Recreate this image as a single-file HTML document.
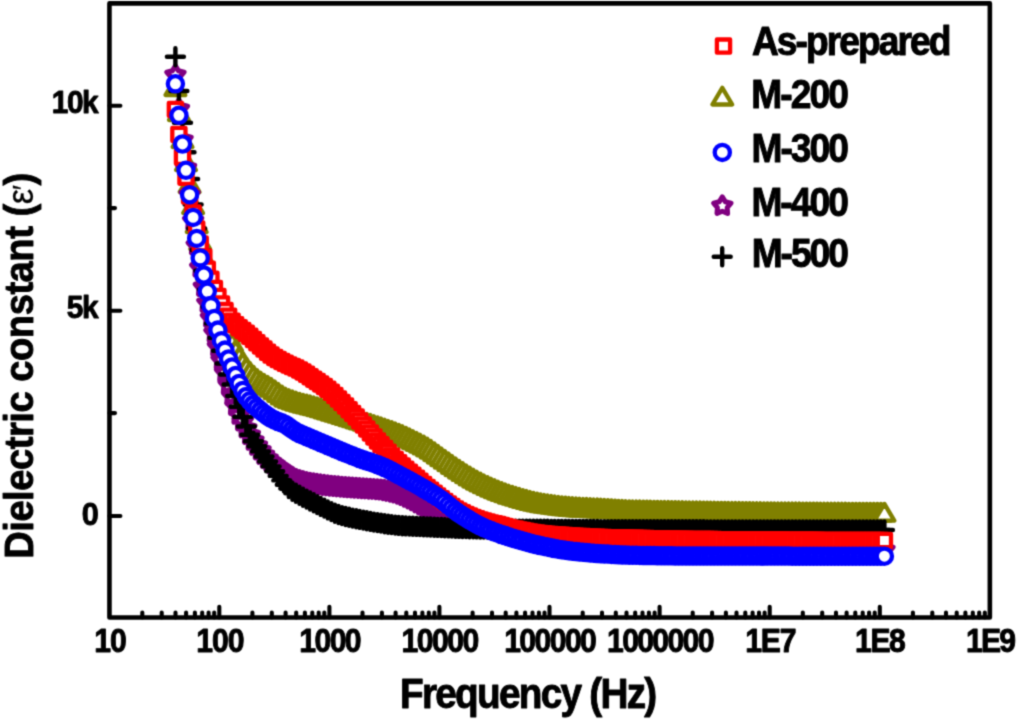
<!DOCTYPE html>
<html><head><meta charset="utf-8"><title>Dielectric constant vs Frequency</title>
<style>
html,body{margin:0;padding:0;background:#fff;}
svg{display:block;}
text{font-family:"Liberation Sans","DejaVu Sans",Arial,sans-serif;font-weight:bold;fill:#000;stroke:#000;stroke-width:0.9;stroke-linejoin:round;}
</style></head><body>
<svg xmlns="http://www.w3.org/2000/svg" width="1017" height="719" viewBox="0 0 1017 719">
<defs>
<path id="mS" d="M-6.6 -6.6H6.6V6.6H-6.6Z" fill="#fff" stroke="#FF0000" stroke-width="4.3" stroke-linejoin="round"/>
<path id="mT" d="M0 -9.6L9.9 7.1H-9.9Z" fill="#fff" stroke="#808000" stroke-width="4.3" stroke-linejoin="round"/>
<circle id="mC" r="7.6" fill="#fff" stroke="#0000FF" stroke-width="4.3"/>
<path id="mR" d="M0 -9.1 L3.1 -4.2 L8.7 -2.8 L4.9 1.6 L5.3 7.4 L0 5.2 L-5.3 7.4 L-4.9 1.6 L-8.7 -2.8 L-3.1 -4.2Z" fill="#fff" stroke="#800080" stroke-width="5.0" stroke-linejoin="round"/>
<path id="mP" d="M-8.5 0H8.5M0 -8.5V8.5" fill="none" stroke="#000" stroke-width="4.4" stroke-linecap="round"/>
<filter id="soft" x="0" y="0" width="1017" height="719" filterUnits="userSpaceOnUse" color-interpolation-filters="sRGB"><feConvolveMatrix order="3" kernelMatrix="9 30 9 30 100 30 9 30 9" divisor="256" edgeMode="duplicate" preserveAlpha="true"/></filter></defs>
<g filter="url(#soft)">
<rect width="1017" height="719" fill="#fff"/>
<g><use href="#mT" x="175.4" y="88"/><use href="#mT" x="178.9" y="113"/><use href="#mT" x="182.5" y="140"/><use href="#mT" x="186" y="163"/><use href="#mT" x="189.6" y="185"/><use href="#mT" x="193.1" y="206"/><use href="#mT" x="196.7" y="225"/><use href="#mT" x="200.2" y="242"/><use href="#mT" x="203.8" y="258"/><use href="#mT" x="207.3" y="273"/><use href="#mT" x="210.9" y="285.8"/><use href="#mT" x="214.4" y="296.6"/><use href="#mT" x="217.9" y="306.3"/><use href="#mT" x="221.5" y="316.2"/><use href="#mT" x="225" y="326.3"/><use href="#mT" x="228.6" y="335.7"/><use href="#mT" x="232.1" y="343.6"/><use href="#mT" x="235.7" y="351"/><use href="#mT" x="239.2" y="357.6"/><use href="#mT" x="242.8" y="363.3"/><use href="#mT" x="246.3" y="368.3"/><use href="#mT" x="249.8" y="372.7"/><use href="#mT" x="253.4" y="376.5"/><use href="#mT" x="256.9" y="379.8"/><use href="#mT" x="260.5" y="382.4"/><use href="#mT" x="264" y="384.6"/><use href="#mT" x="267.6" y="386.6"/><use href="#mT" x="271.1" y="388.6"/><use href="#mT" x="274.7" y="391.1"/><use href="#mT" x="278.2" y="393.7"/><use href="#mT" x="281.8" y="396.3"/><use href="#mT" x="285.3" y="398.4"/><use href="#mT" x="288.8" y="399.9"/><use href="#mT" x="292.4" y="401.2"/><use href="#mT" x="295.9" y="402.4"/><use href="#mT" x="299.5" y="403.5"/><use href="#mT" x="303" y="404.5"/><use href="#mT" x="306.6" y="405.3"/><use href="#mT" x="310.1" y="406.2"/><use href="#mT" x="313.7" y="407.1"/><use href="#mT" x="317.2" y="408.1"/><use href="#mT" x="320.7" y="409.1"/><use href="#mT" x="324.3" y="410.2"/><use href="#mT" x="327.8" y="411.3"/><use href="#mT" x="331.4" y="412.4"/><use href="#mT" x="334.9" y="413.5"/><use href="#mT" x="338.5" y="414.6"/><use href="#mT" x="342" y="415.7"/><use href="#mT" x="345.6" y="416.8"/><use href="#mT" x="349.1" y="417.9"/><use href="#mT" x="352.6" y="419"/><use href="#mT" x="356.2" y="420.2"/><use href="#mT" x="359.7" y="421.3"/><use href="#mT" x="363.3" y="422.4"/><use href="#mT" x="366.8" y="423.6"/><use href="#mT" x="370.4" y="424.7"/><use href="#mT" x="373.9" y="425.9"/><use href="#mT" x="377.5" y="427"/><use href="#mT" x="381" y="428.2"/><use href="#mT" x="384.6" y="429.4"/><use href="#mT" x="388.1" y="430.6"/><use href="#mT" x="391.6" y="431.8"/><use href="#mT" x="395.2" y="433.1"/><use href="#mT" x="398.7" y="434.5"/><use href="#mT" x="402.3" y="435.9"/><use href="#mT" x="405.8" y="437.5"/><use href="#mT" x="409.4" y="439.2"/><use href="#mT" x="412.9" y="440.9"/><use href="#mT" x="416.5" y="442.7"/><use href="#mT" x="420" y="444.4"/><use href="#mT" x="423.6" y="446.3"/><use href="#mT" x="427.1" y="448.3"/><use href="#mT" x="430.6" y="450.5"/><use href="#mT" x="434.2" y="453"/><use href="#mT" x="437.7" y="455.5"/><use href="#mT" x="441.3" y="458.1"/><use href="#mT" x="444.8" y="460.6"/><use href="#mT" x="448.4" y="463.1"/><use href="#mT" x="451.9" y="465.7"/><use href="#mT" x="455.5" y="468.1"/><use href="#mT" x="459" y="470.5"/><use href="#mT" x="462.5" y="472.8"/><use href="#mT" x="466.1" y="475.1"/><use href="#mT" x="469.6" y="477.3"/><use href="#mT" x="473.2" y="479.4"/><use href="#mT" x="476.7" y="481.4"/><use href="#mT" x="480.3" y="483.3"/><use href="#mT" x="483.8" y="485.1"/><use href="#mT" x="487.4" y="486.8"/><use href="#mT" x="490.9" y="488.4"/><use href="#mT" x="494.5" y="489.9"/><use href="#mT" x="498" y="491.4"/><use href="#mT" x="501.5" y="492.8"/><use href="#mT" x="505.1" y="494.1"/><use href="#mT" x="508.6" y="495.4"/><use href="#mT" x="512.2" y="496.5"/><use href="#mT" x="515.7" y="497.6"/><use href="#mT" x="519.3" y="498.7"/><use href="#mT" x="522.8" y="499.8"/><use href="#mT" x="526.4" y="500.7"/><use href="#mT" x="529.9" y="501.7"/><use href="#mT" x="533.4" y="502.5"/><use href="#mT" x="537" y="503.3"/><use href="#mT" x="540.5" y="504"/><use href="#mT" x="544.1" y="504.6"/><use href="#mT" x="547.6" y="505.1"/><use href="#mT" x="551.2" y="505.6"/><use href="#mT" x="554.7" y="506.1"/><use href="#mT" x="558.3" y="506.6"/><use href="#mT" x="561.8" y="507"/><use href="#mT" x="565.4" y="507.3"/><use href="#mT" x="568.9" y="507.7"/><use href="#mT" x="572.4" y="507.9"/><use href="#mT" x="576" y="508.2"/><use href="#mT" x="579.5" y="508.4"/><use href="#mT" x="583.1" y="508.6"/><use href="#mT" x="586.6" y="508.7"/><use href="#mT" x="590.2" y="508.9"/><use href="#mT" x="593.7" y="509.1"/><use href="#mT" x="597.3" y="509.2"/><use href="#mT" x="600.8" y="509.4"/><use href="#mT" x="604.3" y="509.6"/><use href="#mT" x="607.9" y="509.8"/><use href="#mT" x="611.4" y="510"/><use href="#mT" x="615" y="510.3"/><use href="#mT" x="618.5" y="510.5"/><use href="#mT" x="622.1" y="510.7"/><use href="#mT" x="625.6" y="510.9"/><use href="#mT" x="629.2" y="511"/><use href="#mT" x="632.7" y="511.1"/><use href="#mT" x="636.2" y="511.1"/><use href="#mT" x="639.8" y="511.2"/><use href="#mT" x="643.3" y="511.3"/><use href="#mT" x="646.9" y="511.3"/><use href="#mT" x="650.4" y="511.4"/><use href="#mT" x="654" y="511.5"/><use href="#mT" x="657.5" y="511.5"/><use href="#mT" x="661.1" y="511.6"/><use href="#mT" x="664.6" y="511.7"/><use href="#mT" x="668.2" y="511.7"/><use href="#mT" x="671.7" y="511.8"/><use href="#mT" x="675.2" y="511.8"/><use href="#mT" x="678.8" y="511.9"/><use href="#mT" x="682.3" y="511.9"/><use href="#mT" x="685.9" y="512"/><use href="#mT" x="689.4" y="512.1"/><use href="#mT" x="693" y="512.1"/><use href="#mT" x="696.5" y="512.2"/><use href="#mT" x="700.1" y="512.2"/><use href="#mT" x="703.6" y="512.3"/><use href="#mT" x="707.1" y="512.3"/><use href="#mT" x="710.7" y="512.4"/><use href="#mT" x="714.2" y="512.4"/><use href="#mT" x="717.8" y="512.5"/><use href="#mT" x="721.3" y="512.5"/><use href="#mT" x="724.9" y="512.5"/><use href="#mT" x="728.4" y="512.6"/><use href="#mT" x="732" y="512.6"/><use href="#mT" x="735.5" y="512.7"/><use href="#mT" x="739.1" y="512.7"/><use href="#mT" x="742.6" y="512.8"/><use href="#mT" x="746.1" y="512.8"/><use href="#mT" x="749.7" y="512.8"/><use href="#mT" x="753.2" y="512.9"/><use href="#mT" x="756.8" y="512.9"/><use href="#mT" x="760.3" y="512.9"/><use href="#mT" x="763.9" y="513"/><use href="#mT" x="767.4" y="513"/><use href="#mT" x="771" y="513"/><use href="#mT" x="774.5" y="513.1"/><use href="#mT" x="778" y="513.1"/><use href="#mT" x="781.6" y="513.1"/><use href="#mT" x="785.1" y="513.1"/><use href="#mT" x="788.7" y="513.2"/><use href="#mT" x="792.2" y="513.2"/><use href="#mT" x="795.8" y="513.2"/><use href="#mT" x="799.3" y="513.2"/><use href="#mT" x="802.9" y="513.3"/><use href="#mT" x="806.4" y="513.3"/><use href="#mT" x="810" y="513.3"/><use href="#mT" x="813.5" y="513.3"/><use href="#mT" x="817" y="513.3"/><use href="#mT" x="820.6" y="513.4"/><use href="#mT" x="824.1" y="513.4"/><use href="#mT" x="827.7" y="513.4"/><use href="#mT" x="831.2" y="513.4"/><use href="#mT" x="834.8" y="513.4"/><use href="#mT" x="838.3" y="513.4"/><use href="#mT" x="841.9" y="513.4"/><use href="#mT" x="845.4" y="513.4"/><use href="#mT" x="848.9" y="513.5"/><use href="#mT" x="852.5" y="513.5"/><use href="#mT" x="856" y="513.5"/><use href="#mT" x="859.6" y="513.5"/><use href="#mT" x="863.1" y="513.5"/><use href="#mT" x="866.7" y="513.5"/><use href="#mT" x="870.2" y="513.5"/><use href="#mT" x="873.8" y="513.5"/><use href="#mT" x="877.3" y="513.5"/><use href="#mT" x="880.9" y="513.5"/><use href="#mT" x="884.4" y="513.5"/></g><g><use href="#mR" x="175.4" y="75"/><use href="#mR" x="178.9" y="109"/><use href="#mR" x="182.5" y="140"/><use href="#mR" x="186" y="168"/><use href="#mR" x="189.6" y="195"/><use href="#mR" x="193.1" y="221"/><use href="#mR" x="196.7" y="245.5"/><use href="#mR" x="200.2" y="267.6"/><use href="#mR" x="203.8" y="287"/><use href="#mR" x="207.3" y="303"/><use href="#mR" x="210.9" y="318"/><use href="#mR" x="214.4" y="333"/><use href="#mR" x="217.9" y="346.8"/><use href="#mR" x="221.5" y="360.2"/><use href="#mR" x="225" y="372.5"/><use href="#mR" x="228.6" y="384.7"/><use href="#mR" x="232.1" y="395.8"/><use href="#mR" x="235.7" y="405.9"/><use href="#mR" x="239.2" y="414.8"/><use href="#mR" x="242.8" y="421.5"/><use href="#mR" x="246.3" y="428.4"/><use href="#mR" x="249.8" y="435"/><use href="#mR" x="253.4" y="440.8"/><use href="#mR" x="256.9" y="445.8"/><use href="#mR" x="260.5" y="450.5"/><use href="#mR" x="264" y="454.9"/><use href="#mR" x="267.6" y="458.8"/><use href="#mR" x="271.1" y="462.2"/><use href="#mR" x="274.7" y="465.1"/><use href="#mR" x="278.2" y="467.7"/><use href="#mR" x="281.8" y="470.3"/><use href="#mR" x="285.3" y="472.9"/><use href="#mR" x="288.8" y="475.3"/><use href="#mR" x="292.4" y="477.4"/><use href="#mR" x="295.9" y="479.4"/><use href="#mR" x="299.5" y="480.8"/><use href="#mR" x="303" y="481.8"/><use href="#mR" x="306.6" y="482.7"/><use href="#mR" x="310.1" y="483.4"/><use href="#mR" x="313.7" y="484"/><use href="#mR" x="317.2" y="484.6"/><use href="#mR" x="320.7" y="485.1"/><use href="#mR" x="324.3" y="485.6"/><use href="#mR" x="327.8" y="486"/><use href="#mR" x="331.4" y="486.4"/><use href="#mR" x="334.9" y="486.8"/><use href="#mR" x="338.5" y="487.1"/><use href="#mR" x="342" y="487.4"/><use href="#mR" x="345.6" y="487.7"/><use href="#mR" x="349.1" y="488"/><use href="#mR" x="352.6" y="488.3"/><use href="#mR" x="356.2" y="488.5"/><use href="#mR" x="359.7" y="488.8"/><use href="#mR" x="363.3" y="489"/><use href="#mR" x="366.8" y="489.2"/><use href="#mR" x="370.4" y="489.4"/><use href="#mR" x="373.9" y="489.7"/><use href="#mR" x="377.5" y="489.9"/><use href="#mR" x="381" y="490.2"/><use href="#mR" x="384.6" y="490.6"/><use href="#mR" x="388.1" y="491.2"/><use href="#mR" x="391.6" y="491.9"/><use href="#mR" x="395.2" y="492.7"/><use href="#mR" x="398.7" y="493.6"/><use href="#mR" x="402.3" y="494.7"/><use href="#mR" x="405.8" y="496.1"/><use href="#mR" x="409.4" y="497.8"/><use href="#mR" x="412.9" y="499.5"/><use href="#mR" x="416.5" y="501.3"/><use href="#mR" x="420" y="503.4"/><use href="#mR" x="423.6" y="505.5"/><use href="#mR" x="427.1" y="507.6"/><use href="#mR" x="430.6" y="509.7"/><use href="#mR" x="434.2" y="511.9"/><use href="#mR" x="437.7" y="514"/><use href="#mR" x="441.3" y="515.8"/><use href="#mR" x="444.8" y="517.3"/><use href="#mR" x="448.4" y="518.5"/><use href="#mR" x="451.9" y="519.7"/><use href="#mR" x="455.5" y="520.8"/><use href="#mR" x="459" y="521.7"/><use href="#mR" x="462.5" y="522.6"/><use href="#mR" x="466.1" y="523.5"/><use href="#mR" x="469.6" y="524.2"/><use href="#mR" x="473.2" y="525"/><use href="#mR" x="476.7" y="525.7"/><use href="#mR" x="480.3" y="526.4"/><use href="#mR" x="483.8" y="527.2"/><use href="#mR" x="487.4" y="528"/><use href="#mR" x="490.9" y="528.8"/><use href="#mR" x="494.5" y="529.6"/><use href="#mR" x="498" y="530.4"/><use href="#mR" x="501.5" y="531.2"/><use href="#mR" x="505.1" y="532"/><use href="#mR" x="508.6" y="532.7"/><use href="#mR" x="512.2" y="533.4"/><use href="#mR" x="515.7" y="534.1"/><use href="#mR" x="519.3" y="534.8"/><use href="#mR" x="522.8" y="535.4"/><use href="#mR" x="526.4" y="536"/><use href="#mR" x="529.9" y="536.7"/><use href="#mR" x="533.4" y="537.3"/><use href="#mR" x="537" y="537.9"/><use href="#mR" x="540.5" y="538.4"/><use href="#mR" x="544.1" y="539"/><use href="#mR" x="547.6" y="539.6"/><use href="#mR" x="551.2" y="540.1"/><use href="#mR" x="554.7" y="540.6"/><use href="#mR" x="558.3" y="541.2"/><use href="#mR" x="561.8" y="541.7"/><use href="#mR" x="565.4" y="542.2"/><use href="#mR" x="568.9" y="542.6"/><use href="#mR" x="572.4" y="543.1"/><use href="#mR" x="576" y="543.5"/><use href="#mR" x="579.5" y="543.9"/><use href="#mR" x="583.1" y="544.3"/><use href="#mR" x="586.6" y="544.6"/><use href="#mR" x="590.2" y="545"/><use href="#mR" x="593.7" y="545.3"/><use href="#mR" x="597.3" y="545.6"/><use href="#mR" x="600.8" y="545.9"/><use href="#mR" x="604.3" y="546.2"/><use href="#mR" x="607.9" y="546.4"/><use href="#mR" x="611.4" y="546.7"/><use href="#mR" x="615" y="546.9"/><use href="#mR" x="618.5" y="547.1"/><use href="#mR" x="622.1" y="547.4"/><use href="#mR" x="625.6" y="547.6"/><use href="#mR" x="629.2" y="547.8"/><use href="#mR" x="632.7" y="547.9"/><use href="#mR" x="636.2" y="548.1"/><use href="#mR" x="639.8" y="548.2"/><use href="#mR" x="643.3" y="548.4"/><use href="#mR" x="646.9" y="548.4"/><use href="#mR" x="650.4" y="548.5"/><use href="#mR" x="654" y="548.6"/><use href="#mR" x="657.5" y="548.6"/><use href="#mR" x="661.1" y="548.6"/><use href="#mR" x="664.6" y="548.7"/><use href="#mR" x="668.2" y="548.7"/><use href="#mR" x="671.7" y="548.8"/><use href="#mR" x="675.2" y="548.8"/><use href="#mR" x="678.8" y="548.9"/><use href="#mR" x="682.3" y="548.9"/><use href="#mR" x="685.9" y="548.9"/><use href="#mR" x="689.4" y="549"/><use href="#mR" x="693" y="549"/><use href="#mR" x="696.5" y="549.1"/><use href="#mR" x="700.1" y="549.1"/><use href="#mR" x="703.6" y="549.1"/><use href="#mR" x="707.1" y="549.2"/><use href="#mR" x="710.7" y="549.2"/><use href="#mR" x="714.2" y="549.2"/><use href="#mR" x="717.8" y="549.3"/><use href="#mR" x="721.3" y="549.3"/><use href="#mR" x="724.9" y="549.3"/><use href="#mR" x="728.4" y="549.4"/><use href="#mR" x="732" y="549.4"/><use href="#mR" x="735.5" y="549.4"/><use href="#mR" x="739.1" y="549.5"/><use href="#mR" x="742.6" y="549.5"/><use href="#mR" x="746.1" y="549.5"/><use href="#mR" x="749.7" y="549.5"/><use href="#mR" x="753.2" y="549.6"/><use href="#mR" x="756.8" y="549.6"/><use href="#mR" x="760.3" y="549.6"/><use href="#mR" x="763.9" y="549.6"/><use href="#mR" x="767.4" y="549.7"/><use href="#mR" x="771" y="549.7"/><use href="#mR" x="774.5" y="549.7"/><use href="#mR" x="778" y="549.7"/><use href="#mR" x="781.6" y="549.7"/><use href="#mR" x="785.1" y="549.8"/><use href="#mR" x="788.7" y="549.8"/><use href="#mR" x="792.2" y="549.8"/><use href="#mR" x="795.8" y="549.8"/><use href="#mR" x="799.3" y="549.8"/><use href="#mR" x="802.9" y="549.8"/><use href="#mR" x="806.4" y="549.9"/><use href="#mR" x="810" y="549.9"/><use href="#mR" x="813.5" y="549.9"/><use href="#mR" x="817" y="549.9"/><use href="#mR" x="820.6" y="549.9"/><use href="#mR" x="824.1" y="549.9"/><use href="#mR" x="827.7" y="549.9"/><use href="#mR" x="831.2" y="549.9"/><use href="#mR" x="834.8" y="549.9"/><use href="#mR" x="838.3" y="549.9"/><use href="#mR" x="841.9" y="550"/><use href="#mR" x="845.4" y="550"/><use href="#mR" x="848.9" y="550"/><use href="#mR" x="852.5" y="550"/><use href="#mR" x="856" y="550"/><use href="#mR" x="859.6" y="550"/><use href="#mR" x="863.1" y="550"/><use href="#mR" x="866.7" y="550"/><use href="#mR" x="870.2" y="550"/><use href="#mR" x="873.8" y="550"/><use href="#mR" x="877.3" y="550"/><use href="#mR" x="880.9" y="550"/><use href="#mR" x="884.4" y="550"/></g><g><use href="#mP" x="175.4" y="56.7"/><use href="#mP" x="178.9" y="91"/><use href="#mP" x="182.5" y="122.7"/><use href="#mP" x="186" y="152.2"/><use href="#mP" x="189.6" y="179"/><use href="#mP" x="193.1" y="204.5"/><use href="#mP" x="196.7" y="228.4"/><use href="#mP" x="200.2" y="250"/><use href="#mP" x="203.8" y="270.7"/><use href="#mP" x="207.3" y="289.6"/><use href="#mP" x="210.9" y="306.7"/><use href="#mP" x="214.4" y="323.4"/><use href="#mP" x="217.9" y="337.9"/><use href="#mP" x="221.5" y="350.7"/><use href="#mP" x="225" y="363.5"/><use href="#mP" x="228.6" y="374.5"/><use href="#mP" x="232.1" y="384.5"/><use href="#mP" x="235.7" y="396"/><use href="#mP" x="239.2" y="406.8"/><use href="#mP" x="242.8" y="416.9"/><use href="#mP" x="246.3" y="426.5"/><use href="#mP" x="249.8" y="434.8"/><use href="#mP" x="253.4" y="441.2"/><use href="#mP" x="256.9" y="446.3"/><use href="#mP" x="260.5" y="451.4"/><use href="#mP" x="264" y="456.5"/><use href="#mP" x="267.6" y="461.5"/><use href="#mP" x="271.1" y="466.4"/><use href="#mP" x="274.7" y="471.3"/><use href="#mP" x="278.2" y="475.9"/><use href="#mP" x="281.8" y="480.4"/><use href="#mP" x="285.3" y="484.8"/><use href="#mP" x="288.8" y="488.5"/><use href="#mP" x="292.4" y="491.2"/><use href="#mP" x="295.9" y="493.3"/><use href="#mP" x="299.5" y="495.2"/><use href="#mP" x="303" y="497.2"/><use href="#mP" x="306.6" y="499.1"/><use href="#mP" x="310.1" y="501"/><use href="#mP" x="313.7" y="502.8"/><use href="#mP" x="317.2" y="504.6"/><use href="#mP" x="320.7" y="506.4"/><use href="#mP" x="324.3" y="508.1"/><use href="#mP" x="327.8" y="509.9"/><use href="#mP" x="331.4" y="511.6"/><use href="#mP" x="334.9" y="513.2"/><use href="#mP" x="338.5" y="514.5"/><use href="#mP" x="342" y="515.6"/><use href="#mP" x="345.6" y="516.5"/><use href="#mP" x="349.1" y="517.3"/><use href="#mP" x="352.6" y="518.1"/><use href="#mP" x="356.2" y="518.8"/><use href="#mP" x="359.7" y="519.4"/><use href="#mP" x="363.3" y="520.1"/><use href="#mP" x="366.8" y="520.8"/><use href="#mP" x="370.4" y="521.4"/><use href="#mP" x="373.9" y="522.1"/><use href="#mP" x="377.5" y="522.6"/><use href="#mP" x="381" y="523.1"/><use href="#mP" x="384.6" y="523.7"/><use href="#mP" x="388.1" y="524.2"/><use href="#mP" x="391.6" y="524.6"/><use href="#mP" x="395.2" y="525.1"/><use href="#mP" x="398.7" y="525.4"/><use href="#mP" x="402.3" y="525.7"/><use href="#mP" x="405.8" y="525.9"/><use href="#mP" x="409.4" y="526.1"/><use href="#mP" x="412.9" y="526.3"/><use href="#mP" x="416.5" y="526.4"/><use href="#mP" x="420" y="526.6"/><use href="#mP" x="423.6" y="526.7"/><use href="#mP" x="427.1" y="526.9"/><use href="#mP" x="430.6" y="527"/><use href="#mP" x="434.2" y="527.2"/><use href="#mP" x="437.7" y="527.4"/><use href="#mP" x="441.3" y="527.5"/><use href="#mP" x="444.8" y="527.7"/><use href="#mP" x="448.4" y="527.9"/><use href="#mP" x="451.9" y="528"/><use href="#mP" x="455.5" y="528.2"/><use href="#mP" x="459" y="528.4"/><use href="#mP" x="462.5" y="528.5"/><use href="#mP" x="466.1" y="528.6"/><use href="#mP" x="469.6" y="528.7"/><use href="#mP" x="473.2" y="528.8"/><use href="#mP" x="476.7" y="528.9"/><use href="#mP" x="480.3" y="529"/><use href="#mP" x="483.8" y="529"/><use href="#mP" x="487.4" y="529"/><use href="#mP" x="490.9" y="529"/><use href="#mP" x="494.5" y="529.1"/><use href="#mP" x="498" y="529.1"/><use href="#mP" x="501.5" y="529.1"/><use href="#mP" x="505.1" y="529.1"/><use href="#mP" x="508.6" y="529.1"/><use href="#mP" x="512.2" y="529.2"/><use href="#mP" x="515.7" y="529.2"/><use href="#mP" x="519.3" y="529.2"/><use href="#mP" x="522.8" y="529.2"/><use href="#mP" x="526.4" y="529.2"/><use href="#mP" x="529.9" y="529.3"/><use href="#mP" x="533.4" y="529.3"/><use href="#mP" x="537" y="529.3"/><use href="#mP" x="540.5" y="529.3"/><use href="#mP" x="544.1" y="529.3"/><use href="#mP" x="547.6" y="529.3"/><use href="#mP" x="551.2" y="529.4"/><use href="#mP" x="554.7" y="529.4"/><use href="#mP" x="558.3" y="529.4"/><use href="#mP" x="561.8" y="529.4"/><use href="#mP" x="565.4" y="529.4"/><use href="#mP" x="568.9" y="529.4"/><use href="#mP" x="572.4" y="529.5"/><use href="#mP" x="576" y="529.5"/><use href="#mP" x="579.5" y="529.5"/><use href="#mP" x="583.1" y="529.5"/><use href="#mP" x="586.6" y="529.5"/><use href="#mP" x="590.2" y="529.5"/><use href="#mP" x="593.7" y="529.5"/><use href="#mP" x="597.3" y="529.5"/><use href="#mP" x="600.8" y="529.6"/><use href="#mP" x="604.3" y="529.6"/><use href="#mP" x="607.9" y="529.6"/><use href="#mP" x="611.4" y="529.6"/><use href="#mP" x="615" y="529.6"/><use href="#mP" x="618.5" y="529.6"/><use href="#mP" x="622.1" y="529.6"/><use href="#mP" x="625.6" y="529.6"/><use href="#mP" x="629.2" y="529.7"/><use href="#mP" x="632.7" y="529.7"/><use href="#mP" x="636.2" y="529.7"/><use href="#mP" x="639.8" y="529.7"/><use href="#mP" x="643.3" y="529.7"/><use href="#mP" x="646.9" y="529.7"/><use href="#mP" x="650.4" y="529.7"/><use href="#mP" x="654" y="529.7"/><use href="#mP" x="657.5" y="529.7"/><use href="#mP" x="661.1" y="529.7"/><use href="#mP" x="664.6" y="529.8"/><use href="#mP" x="668.2" y="529.8"/><use href="#mP" x="671.7" y="529.8"/><use href="#mP" x="675.2" y="529.8"/><use href="#mP" x="678.8" y="529.8"/><use href="#mP" x="682.3" y="529.8"/><use href="#mP" x="685.9" y="529.8"/><use href="#mP" x="689.4" y="529.8"/><use href="#mP" x="693" y="529.8"/><use href="#mP" x="696.5" y="529.8"/><use href="#mP" x="700.1" y="529.8"/><use href="#mP" x="703.6" y="529.8"/><use href="#mP" x="707.1" y="529.9"/><use href="#mP" x="710.7" y="529.9"/><use href="#mP" x="714.2" y="529.9"/><use href="#mP" x="717.8" y="529.9"/><use href="#mP" x="721.3" y="529.9"/><use href="#mP" x="724.9" y="529.9"/><use href="#mP" x="728.4" y="529.9"/><use href="#mP" x="732" y="529.9"/><use href="#mP" x="735.5" y="529.9"/><use href="#mP" x="739.1" y="529.9"/><use href="#mP" x="742.6" y="529.9"/><use href="#mP" x="746.1" y="529.9"/><use href="#mP" x="749.7" y="529.9"/><use href="#mP" x="753.2" y="529.9"/><use href="#mP" x="756.8" y="529.9"/><use href="#mP" x="760.3" y="529.9"/><use href="#mP" x="763.9" y="529.9"/><use href="#mP" x="767.4" y="529.9"/><use href="#mP" x="771" y="529.9"/><use href="#mP" x="774.5" y="529.9"/><use href="#mP" x="778" y="530"/><use href="#mP" x="781.6" y="530"/><use href="#mP" x="785.1" y="530"/><use href="#mP" x="788.7" y="530"/><use href="#mP" x="792.2" y="530"/><use href="#mP" x="795.8" y="530"/><use href="#mP" x="799.3" y="530"/><use href="#mP" x="802.9" y="530"/><use href="#mP" x="806.4" y="530"/><use href="#mP" x="810" y="530"/><use href="#mP" x="813.5" y="530"/><use href="#mP" x="817" y="530"/><use href="#mP" x="820.6" y="530"/><use href="#mP" x="824.1" y="530"/><use href="#mP" x="827.7" y="530"/><use href="#mP" x="831.2" y="530"/><use href="#mP" x="834.8" y="530"/><use href="#mP" x="838.3" y="530"/><use href="#mP" x="841.9" y="530"/><use href="#mP" x="845.4" y="530"/><use href="#mP" x="848.9" y="530"/><use href="#mP" x="852.5" y="530"/><use href="#mP" x="856" y="530"/><use href="#mP" x="859.6" y="530"/><use href="#mP" x="863.1" y="530"/><use href="#mP" x="866.7" y="530"/><use href="#mP" x="870.2" y="530"/><use href="#mP" x="873.8" y="530"/><use href="#mP" x="877.3" y="530"/><use href="#mP" x="880.9" y="530"/><use href="#mP" x="884.4" y="530"/></g><g><use href="#mS" x="175.4" y="109.5"/><use href="#mS" x="178.9" y="134.5"/><use href="#mS" x="182.5" y="157.2"/><use href="#mS" x="186" y="177.2"/><use href="#mS" x="189.6" y="196"/><use href="#mS" x="193.1" y="213"/><use href="#mS" x="196.7" y="229"/><use href="#mS" x="200.2" y="244"/><use href="#mS" x="203.8" y="257"/><use href="#mS" x="207.3" y="269.3"/><use href="#mS" x="210.9" y="279.3"/><use href="#mS" x="214.4" y="288.5"/><use href="#mS" x="217.9" y="296.5"/><use href="#mS" x="221.5" y="304"/><use href="#mS" x="225" y="310.6"/><use href="#mS" x="228.6" y="316.2"/><use href="#mS" x="232.1" y="321.2"/><use href="#mS" x="235.7" y="324.8"/><use href="#mS" x="239.2" y="327.7"/><use href="#mS" x="242.8" y="330.5"/><use href="#mS" x="246.3" y="333.2"/><use href="#mS" x="249.8" y="336.3"/><use href="#mS" x="253.4" y="339.5"/><use href="#mS" x="256.9" y="342.8"/><use href="#mS" x="260.5" y="345.9"/><use href="#mS" x="264" y="349.1"/><use href="#mS" x="267.6" y="352.3"/><use href="#mS" x="271.1" y="355.1"/><use href="#mS" x="274.7" y="357.4"/><use href="#mS" x="278.2" y="359.6"/><use href="#mS" x="281.8" y="361.5"/><use href="#mS" x="285.3" y="363.3"/><use href="#mS" x="288.8" y="365"/><use href="#mS" x="292.4" y="366.6"/><use href="#mS" x="295.9" y="368.1"/><use href="#mS" x="299.5" y="369.9"/><use href="#mS" x="303" y="372"/><use href="#mS" x="306.6" y="374.3"/><use href="#mS" x="310.1" y="376.7"/><use href="#mS" x="313.7" y="379.2"/><use href="#mS" x="317.2" y="381.5"/><use href="#mS" x="320.7" y="383.9"/><use href="#mS" x="324.3" y="386.5"/><use href="#mS" x="327.8" y="389.2"/><use href="#mS" x="331.4" y="392.3"/><use href="#mS" x="334.9" y="395.6"/><use href="#mS" x="338.5" y="399.1"/><use href="#mS" x="342" y="402.6"/><use href="#mS" x="345.6" y="406.1"/><use href="#mS" x="349.1" y="409.7"/><use href="#mS" x="352.6" y="413.4"/><use href="#mS" x="356.2" y="417.1"/><use href="#mS" x="359.7" y="421"/><use href="#mS" x="363.3" y="425"/><use href="#mS" x="366.8" y="429"/><use href="#mS" x="370.4" y="433"/><use href="#mS" x="373.9" y="436.9"/><use href="#mS" x="377.5" y="440.9"/><use href="#mS" x="381" y="444.8"/><use href="#mS" x="384.6" y="448.5"/><use href="#mS" x="388.1" y="452.2"/><use href="#mS" x="391.6" y="455.9"/><use href="#mS" x="395.2" y="459.4"/><use href="#mS" x="398.7" y="462.8"/><use href="#mS" x="402.3" y="466.1"/><use href="#mS" x="405.8" y="469.2"/><use href="#mS" x="409.4" y="472.2"/><use href="#mS" x="412.9" y="475.2"/><use href="#mS" x="416.5" y="478.2"/><use href="#mS" x="420" y="481.3"/><use href="#mS" x="423.6" y="484.4"/><use href="#mS" x="427.1" y="487.4"/><use href="#mS" x="430.6" y="490.3"/><use href="#mS" x="434.2" y="493.2"/><use href="#mS" x="437.7" y="496"/><use href="#mS" x="441.3" y="498.7"/><use href="#mS" x="444.8" y="501.4"/><use href="#mS" x="448.4" y="504.1"/><use href="#mS" x="451.9" y="506.6"/><use href="#mS" x="455.5" y="508.9"/><use href="#mS" x="459" y="510.9"/><use href="#mS" x="462.5" y="512.8"/><use href="#mS" x="466.1" y="514.5"/><use href="#mS" x="469.6" y="516.1"/><use href="#mS" x="473.2" y="517.5"/><use href="#mS" x="476.7" y="518.8"/><use href="#mS" x="480.3" y="520"/><use href="#mS" x="483.8" y="521.1"/><use href="#mS" x="487.4" y="522.1"/><use href="#mS" x="490.9" y="522.9"/><use href="#mS" x="494.5" y="523.7"/><use href="#mS" x="498" y="524.5"/><use href="#mS" x="501.5" y="525.4"/><use href="#mS" x="505.1" y="526.5"/><use href="#mS" x="508.6" y="527.5"/><use href="#mS" x="512.2" y="528.4"/><use href="#mS" x="515.7" y="529.1"/><use href="#mS" x="519.3" y="529.9"/><use href="#mS" x="522.8" y="530.6"/><use href="#mS" x="526.4" y="531.3"/><use href="#mS" x="529.9" y="531.9"/><use href="#mS" x="533.4" y="532.5"/><use href="#mS" x="537" y="533"/><use href="#mS" x="540.5" y="533.4"/><use href="#mS" x="544.1" y="533.8"/><use href="#mS" x="547.6" y="534.2"/><use href="#mS" x="551.2" y="534.5"/><use href="#mS" x="554.7" y="534.8"/><use href="#mS" x="558.3" y="535.1"/><use href="#mS" x="561.8" y="535.3"/><use href="#mS" x="565.4" y="535.6"/><use href="#mS" x="568.9" y="535.8"/><use href="#mS" x="572.4" y="536"/><use href="#mS" x="576" y="536.2"/><use href="#mS" x="579.5" y="536.4"/><use href="#mS" x="583.1" y="536.6"/><use href="#mS" x="586.6" y="536.8"/><use href="#mS" x="590.2" y="537"/><use href="#mS" x="593.7" y="537.2"/><use href="#mS" x="597.3" y="537.3"/><use href="#mS" x="600.8" y="537.4"/><use href="#mS" x="604.3" y="537.6"/><use href="#mS" x="607.9" y="537.7"/><use href="#mS" x="611.4" y="537.8"/><use href="#mS" x="615" y="537.9"/><use href="#mS" x="618.5" y="537.9"/><use href="#mS" x="622.1" y="538"/><use href="#mS" x="625.6" y="538.1"/><use href="#mS" x="629.2" y="538.2"/><use href="#mS" x="632.7" y="538.3"/><use href="#mS" x="636.2" y="538.3"/><use href="#mS" x="639.8" y="538.4"/><use href="#mS" x="643.3" y="538.5"/><use href="#mS" x="646.9" y="538.6"/><use href="#mS" x="650.4" y="538.7"/><use href="#mS" x="654" y="538.7"/><use href="#mS" x="657.5" y="538.8"/><use href="#mS" x="661.1" y="538.9"/><use href="#mS" x="664.6" y="539"/><use href="#mS" x="668.2" y="539"/><use href="#mS" x="671.7" y="539.1"/><use href="#mS" x="675.2" y="539.2"/><use href="#mS" x="678.8" y="539.2"/><use href="#mS" x="682.3" y="539.3"/><use href="#mS" x="685.9" y="539.3"/><use href="#mS" x="689.4" y="539.4"/><use href="#mS" x="693" y="539.4"/><use href="#mS" x="696.5" y="539.5"/><use href="#mS" x="700.1" y="539.5"/><use href="#mS" x="703.6" y="539.5"/><use href="#mS" x="707.1" y="539.6"/><use href="#mS" x="710.7" y="539.6"/><use href="#mS" x="714.2" y="539.6"/><use href="#mS" x="717.8" y="539.7"/><use href="#mS" x="721.3" y="539.7"/><use href="#mS" x="724.9" y="539.7"/><use href="#mS" x="728.4" y="539.7"/><use href="#mS" x="732" y="539.8"/><use href="#mS" x="735.5" y="539.8"/><use href="#mS" x="739.1" y="539.8"/><use href="#mS" x="742.6" y="539.9"/><use href="#mS" x="746.1" y="539.9"/><use href="#mS" x="749.7" y="539.9"/><use href="#mS" x="753.2" y="539.9"/><use href="#mS" x="756.8" y="540"/><use href="#mS" x="760.3" y="540"/><use href="#mS" x="763.9" y="540"/><use href="#mS" x="767.4" y="540.1"/><use href="#mS" x="771" y="540.1"/><use href="#mS" x="774.5" y="540.1"/><use href="#mS" x="778" y="540.1"/><use href="#mS" x="781.6" y="540.1"/><use href="#mS" x="785.1" y="540.2"/><use href="#mS" x="788.7" y="540.2"/><use href="#mS" x="792.2" y="540.2"/><use href="#mS" x="795.8" y="540.2"/><use href="#mS" x="799.3" y="540.3"/><use href="#mS" x="802.9" y="540.3"/><use href="#mS" x="806.4" y="540.3"/><use href="#mS" x="810" y="540.3"/><use href="#mS" x="813.5" y="540.3"/><use href="#mS" x="817" y="540.3"/><use href="#mS" x="820.6" y="540.4"/><use href="#mS" x="824.1" y="540.4"/><use href="#mS" x="827.7" y="540.4"/><use href="#mS" x="831.2" y="540.4"/><use href="#mS" x="834.8" y="540.4"/><use href="#mS" x="838.3" y="540.4"/><use href="#mS" x="841.9" y="540.4"/><use href="#mS" x="845.4" y="540.4"/><use href="#mS" x="848.9" y="540.5"/><use href="#mS" x="852.5" y="540.5"/><use href="#mS" x="856" y="540.5"/><use href="#mS" x="859.6" y="540.5"/><use href="#mS" x="863.1" y="540.5"/><use href="#mS" x="866.7" y="540.5"/><use href="#mS" x="870.2" y="540.5"/><use href="#mS" x="873.8" y="540.5"/><use href="#mS" x="877.3" y="540.5"/><use href="#mS" x="880.9" y="540.5"/><use href="#mS" x="884.4" y="540.5"/></g><g><use href="#mC" x="175.4" y="83.8"/><use href="#mC" x="178.9" y="115.3"/><use href="#mC" x="182.5" y="144"/><use href="#mC" x="186" y="170.3"/><use href="#mC" x="189.6" y="194.7"/><use href="#mC" x="193.1" y="217.4"/><use href="#mC" x="196.7" y="238.4"/><use href="#mC" x="200.2" y="257.9"/><use href="#mC" x="203.8" y="275"/><use href="#mC" x="207.3" y="291.3"/><use href="#mC" x="210.9" y="305.6"/><use href="#mC" x="214.4" y="318.4"/><use href="#mC" x="217.9" y="330.1"/><use href="#mC" x="221.5" y="340.7"/><use href="#mC" x="225" y="350.1"/><use href="#mC" x="228.6" y="359"/><use href="#mC" x="232.1" y="367"/><use href="#mC" x="235.7" y="375.5"/><use href="#mC" x="239.2" y="383.5"/><use href="#mC" x="242.8" y="390.5"/><use href="#mC" x="246.3" y="396.5"/><use href="#mC" x="249.8" y="400.8"/><use href="#mC" x="253.4" y="404.5"/><use href="#mC" x="256.9" y="407.7"/><use href="#mC" x="260.5" y="410.6"/><use href="#mC" x="264" y="413.4"/><use href="#mC" x="267.6" y="416"/><use href="#mC" x="271.1" y="418.3"/><use href="#mC" x="274.7" y="420.1"/><use href="#mC" x="278.2" y="421.5"/><use href="#mC" x="281.8" y="422.8"/><use href="#mC" x="285.3" y="424.4"/><use href="#mC" x="288.8" y="426.8"/><use href="#mC" x="292.4" y="429.4"/><use href="#mC" x="295.9" y="431.7"/><use href="#mC" x="299.5" y="433.5"/><use href="#mC" x="303" y="435"/><use href="#mC" x="306.6" y="436.5"/><use href="#mC" x="310.1" y="438"/><use href="#mC" x="313.7" y="439.6"/><use href="#mC" x="317.2" y="441.1"/><use href="#mC" x="320.7" y="442.6"/><use href="#mC" x="324.3" y="444"/><use href="#mC" x="327.8" y="445.5"/><use href="#mC" x="331.4" y="447"/><use href="#mC" x="334.9" y="448.5"/><use href="#mC" x="338.5" y="450"/><use href="#mC" x="342" y="451.5"/><use href="#mC" x="345.6" y="453"/><use href="#mC" x="349.1" y="454.4"/><use href="#mC" x="352.6" y="455.8"/><use href="#mC" x="356.2" y="457.2"/><use href="#mC" x="359.7" y="458.5"/><use href="#mC" x="363.3" y="459.8"/><use href="#mC" x="366.8" y="461"/><use href="#mC" x="370.4" y="462.1"/><use href="#mC" x="373.9" y="463.4"/><use href="#mC" x="377.5" y="464.6"/><use href="#mC" x="381" y="466"/><use href="#mC" x="384.6" y="467.5"/><use href="#mC" x="388.1" y="469.2"/><use href="#mC" x="391.6" y="471"/><use href="#mC" x="395.2" y="472.9"/><use href="#mC" x="398.7" y="474.8"/><use href="#mC" x="402.3" y="476.7"/><use href="#mC" x="405.8" y="478.6"/><use href="#mC" x="409.4" y="480.5"/><use href="#mC" x="412.9" y="482.4"/><use href="#mC" x="416.5" y="484.4"/><use href="#mC" x="420" y="486.4"/><use href="#mC" x="423.6" y="488.5"/><use href="#mC" x="427.1" y="490.6"/><use href="#mC" x="430.6" y="492.7"/><use href="#mC" x="434.2" y="495"/><use href="#mC" x="437.7" y="497.3"/><use href="#mC" x="441.3" y="499.7"/><use href="#mC" x="444.8" y="502.4"/><use href="#mC" x="448.4" y="505.3"/><use href="#mC" x="451.9" y="508.2"/><use href="#mC" x="455.5" y="510.9"/><use href="#mC" x="459" y="513.4"/><use href="#mC" x="462.5" y="515.7"/><use href="#mC" x="466.1" y="517.9"/><use href="#mC" x="469.6" y="520.1"/><use href="#mC" x="473.2" y="522.2"/><use href="#mC" x="476.7" y="524.2"/><use href="#mC" x="480.3" y="526"/><use href="#mC" x="483.8" y="527.7"/><use href="#mC" x="487.4" y="529.2"/><use href="#mC" x="490.9" y="530.6"/><use href="#mC" x="494.5" y="532"/><use href="#mC" x="498" y="533.2"/><use href="#mC" x="501.5" y="534.5"/><use href="#mC" x="505.1" y="535.6"/><use href="#mC" x="508.6" y="536.8"/><use href="#mC" x="512.2" y="537.9"/><use href="#mC" x="515.7" y="539"/><use href="#mC" x="519.3" y="540.1"/><use href="#mC" x="522.8" y="541.1"/><use href="#mC" x="526.4" y="542.1"/><use href="#mC" x="529.9" y="543.1"/><use href="#mC" x="533.4" y="544"/><use href="#mC" x="537" y="544.8"/><use href="#mC" x="540.5" y="545.6"/><use href="#mC" x="544.1" y="546.4"/><use href="#mC" x="547.6" y="547.1"/><use href="#mC" x="551.2" y="547.8"/><use href="#mC" x="554.7" y="548.5"/><use href="#mC" x="558.3" y="549.2"/><use href="#mC" x="561.8" y="549.8"/><use href="#mC" x="565.4" y="550.3"/><use href="#mC" x="568.9" y="550.8"/><use href="#mC" x="572.4" y="551.3"/><use href="#mC" x="576" y="551.6"/><use href="#mC" x="579.5" y="552"/><use href="#mC" x="583.1" y="552.3"/><use href="#mC" x="586.6" y="552.6"/><use href="#mC" x="590.2" y="552.9"/><use href="#mC" x="593.7" y="553.2"/><use href="#mC" x="597.3" y="553.5"/><use href="#mC" x="600.8" y="553.7"/><use href="#mC" x="604.3" y="553.9"/><use href="#mC" x="607.9" y="554.1"/><use href="#mC" x="611.4" y="554.4"/><use href="#mC" x="615" y="554.6"/><use href="#mC" x="618.5" y="554.8"/><use href="#mC" x="622.1" y="554.9"/><use href="#mC" x="625.6" y="555.1"/><use href="#mC" x="629.2" y="555.2"/><use href="#mC" x="632.7" y="555.3"/><use href="#mC" x="636.2" y="555.3"/><use href="#mC" x="639.8" y="555.4"/><use href="#mC" x="643.3" y="555.5"/><use href="#mC" x="646.9" y="555.5"/><use href="#mC" x="650.4" y="555.6"/><use href="#mC" x="654" y="555.6"/><use href="#mC" x="657.5" y="555.7"/><use href="#mC" x="661.1" y="555.7"/><use href="#mC" x="664.6" y="555.8"/><use href="#mC" x="668.2" y="555.8"/><use href="#mC" x="671.7" y="555.8"/><use href="#mC" x="675.2" y="555.9"/><use href="#mC" x="678.8" y="555.9"/><use href="#mC" x="682.3" y="555.9"/><use href="#mC" x="685.9" y="555.9"/><use href="#mC" x="689.4" y="556"/><use href="#mC" x="693" y="556"/><use href="#mC" x="696.5" y="556"/><use href="#mC" x="700.1" y="556"/><use href="#mC" x="703.6" y="556"/><use href="#mC" x="707.1" y="556"/><use href="#mC" x="710.7" y="556"/><use href="#mC" x="714.2" y="556"/><use href="#mC" x="717.8" y="556"/><use href="#mC" x="721.3" y="556"/><use href="#mC" x="724.9" y="556.1"/><use href="#mC" x="728.4" y="556.1"/><use href="#mC" x="732" y="556.1"/><use href="#mC" x="735.5" y="556.1"/><use href="#mC" x="739.1" y="556.1"/><use href="#mC" x="742.6" y="556.1"/><use href="#mC" x="746.1" y="556.1"/><use href="#mC" x="749.7" y="556.1"/><use href="#mC" x="753.2" y="556.1"/><use href="#mC" x="756.8" y="556.1"/><use href="#mC" x="760.3" y="556.1"/><use href="#mC" x="763.9" y="556.1"/><use href="#mC" x="767.4" y="556.1"/><use href="#mC" x="771" y="556.1"/><use href="#mC" x="774.5" y="556.1"/><use href="#mC" x="778" y="556.1"/><use href="#mC" x="781.6" y="556.1"/><use href="#mC" x="785.1" y="556.1"/><use href="#mC" x="788.7" y="556.1"/><use href="#mC" x="792.2" y="556.2"/><use href="#mC" x="795.8" y="556.2"/><use href="#mC" x="799.3" y="556.2"/><use href="#mC" x="802.9" y="556.2"/><use href="#mC" x="806.4" y="556.2"/><use href="#mC" x="810" y="556.2"/><use href="#mC" x="813.5" y="556.2"/><use href="#mC" x="817" y="556.2"/><use href="#mC" x="820.6" y="556.2"/><use href="#mC" x="824.1" y="556.2"/><use href="#mC" x="827.7" y="556.2"/><use href="#mC" x="831.2" y="556.2"/><use href="#mC" x="834.8" y="556.2"/><use href="#mC" x="838.3" y="556.2"/><use href="#mC" x="841.9" y="556.2"/><use href="#mC" x="845.4" y="556.2"/><use href="#mC" x="848.9" y="556.2"/><use href="#mC" x="852.5" y="556.2"/><use href="#mC" x="856" y="556.2"/><use href="#mC" x="859.6" y="556.2"/><use href="#mC" x="863.1" y="556.2"/><use href="#mC" x="866.7" y="556.2"/><use href="#mC" x="870.2" y="556.2"/><use href="#mC" x="873.8" y="556.2"/><use href="#mC" x="877.3" y="556.2"/><use href="#mC" x="880.9" y="556.2"/><use href="#mC" x="884.4" y="556.2"/></g>
<path d="M142.3 617.5V612.6 M161.7 617.5V612.6 M175.5 617.5V612.6 M186.1 617.5V612.6 M194.9 617.5V612.6 M202.2 617.5V612.6 M208.6 617.5V612.6 M214.2 617.5V612.6 M219.3 617.5V606.8 M252.4 617.5V612.6 M271.8 617.5V612.6 M285.6 617.5V612.6 M296.2 617.5V612.6 M304.9 617.5V612.6 M312.3 617.5V612.6 M318.7 617.5V612.6 M324.3 617.5V612.6 M329.4 617.5V606.8 M362.5 617.5V612.6 M381.9 617.5V612.6 M395.6 617.5V612.6 M406.3 617.5V612.6 M415 617.5V612.6 M422.4 617.5V612.6 M428.8 617.5V612.6 M434.4 617.5V612.6 M439.4 617.5V606.8 M472.6 617.5V612.6 M492 617.5V612.6 M505.7 617.5V612.6 M516.4 617.5V612.6 M525.1 617.5V612.6 M532.5 617.5V612.6 M538.9 617.5V612.6 M544.5 617.5V612.6 M549.5 617.5V606.8 M582.7 617.5V612.6 M602 617.5V612.6 M615.8 617.5V612.6 M626.5 617.5V612.6 M635.2 617.5V612.6 M642.5 617.5V612.6 M648.9 617.5V612.6 M654.6 617.5V612.6 M659.6 617.5V606.8 M692.7 617.5V612.6 M712.1 617.5V612.6 M725.9 617.5V612.6 M736.5 617.5V612.6 M745.3 617.5V612.6 M752.6 617.5V612.6 M759 617.5V612.6 M764.6 617.5V612.6 M769.7 617.5V606.8 M802.8 617.5V612.6 M822.2 617.5V612.6 M836 617.5V612.6 M846.6 617.5V612.6 M855.3 617.5V612.6 M862.7 617.5V612.6 M869.1 617.5V612.6 M874.7 617.5V612.6 M879.8 617.5V606.8 M912.9 617.5V612.6 M932.3 617.5V612.6 M946 617.5V612.6 M956.7 617.5V612.6 M965.4 617.5V612.6 M972.8 617.5V612.6 M979.2 617.5V612.6 M984.8 617.5V612.6 M109.45 105.8H120.4 M109.45 310.8H120.4 M109.45 516.0H120.4 M109.45 208.1H115 M109.45 413.1H115" stroke="#000" stroke-width="4.1" stroke-linecap="round" fill="none"/><rect x="109.45" y="3.4" width="880.4" height="614.1" fill="none" stroke="#000" stroke-width="4.6" stroke-linejoin="round"/>
<text transform="translate(51.67 112.88) scale(0.9486 1.0200)" font-size="31.5" letter-spacing="-1.47">10k</text><text transform="translate(66.79 317.88) scale(0.9486 1.0200)" font-size="31.5" letter-spacing="-1.48">5k</text><text transform="translate(81.70 524.55) scale(0.9755 1.0200)" font-size="31.5">0</text><text transform="translate(855.12 651.53) scale(0.9579 1.0300)" font-size="31.5" letter-spacing="-1.56">1E8</text><text transform="translate(94.32 651.53) scale(0.9579 1.0300)" font-size="31.5" letter-spacing="-1.07">10</text><text transform="translate(196.23 651.53) scale(0.9579 1.0300)" font-size="31.5" letter-spacing="-1.13">100</text><text transform="translate(299.31 651.53) scale(0.9579 1.0300)" font-size="31.5" letter-spacing="-1.67">1000</text><text transform="translate(401.42 651.53) scale(0.9579 1.0300)" font-size="31.5" letter-spacing="-1.58">10000</text><text transform="translate(504.17 651.53) scale(0.9579 1.0300)" font-size="31.5" letter-spacing="-1.67">100000</text><text transform="translate(607.03 651.53) scale(0.9579 1.0300)" font-size="31.5" letter-spacing="-1.75">1000000</text><text transform="translate(745.27 651.53) scale(0.9579 1.0300)" font-size="31.5" letter-spacing="-1.24">1E7</text><text transform="translate(965.97 651.53) scale(0.9579 1.0300)" font-size="31.5" letter-spacing="-1.90">1E9</text><text transform="translate(400.04 708.34) scale(0.9458 1.0170)" font-size="41" letter-spacing="-1.86">Frequency (Hz)</text><text transform="translate(32.51 558.81) rotate(-90) scale(0.9300 1.0000)" font-size="41" letter-spacing="-0.50">Dielectric constant (<tspan font-weight="normal" font-size="37" stroke-width="0.3">ε</tspan><tspan font-weight="normal" font-size="30" stroke-width="0.3" dx="-1">′</tspan>)</text><text transform="translate(751.95 55.35) scale(1.0621 1.1420)" font-size="35" letter-spacing="-1.82">As-prepared</text><text transform="translate(751.33 108.49) scale(1.0621 1.1420)" font-size="35" letter-spacing="-1.84">M-200</text><text transform="translate(751.55 161.53) scale(1.0621 1.1420)" font-size="35" letter-spacing="-1.89">M-300</text><text transform="translate(751.38 215.54) scale(1.0621 1.1420)" font-size="35" letter-spacing="-1.85">M-400</text><text transform="translate(751.67 267.45) scale(1.0621 1.1420)" font-size="35" letter-spacing="-1.92">M-500</text>
<use href="#mS" x="723.5" y="46.1"/><use href="#mT" x="722.3" y="97.4"/><use href="#mC" x="722.3" y="152.4"/><use href="#mR" x="722.3" y="206.0"/><use href="#mP" x="722.2" y="256.7"/>
</g>
</svg>
</body></html>
